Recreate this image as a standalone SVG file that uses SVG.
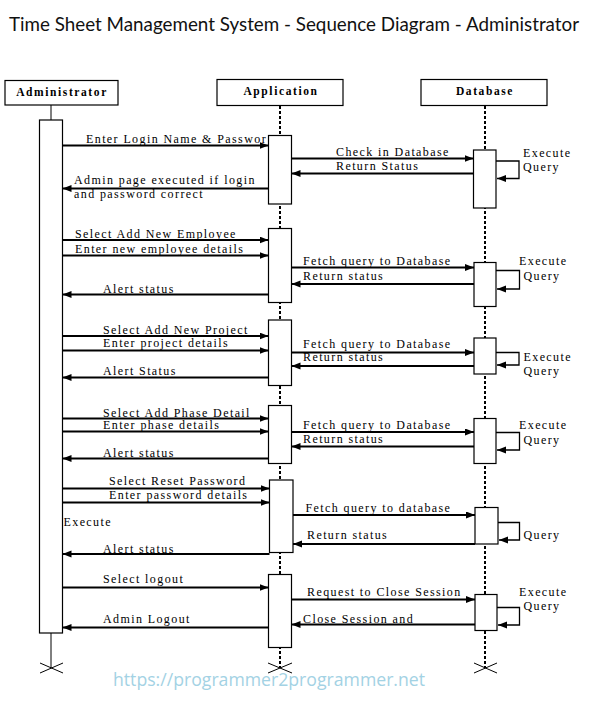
<svg xmlns="http://www.w3.org/2000/svg" width="594" height="708" viewBox="0 0 594 708">
<style>
.bg{fill:#fff}
.box{fill:#fff;stroke:#000;stroke-width:1.2}
.act{fill:#fff;stroke:#000;stroke-width:1.2}
.life{stroke:#000;stroke-width:1;fill:none}
.dash{stroke:#000;stroke-width:2;stroke-dasharray:3,2;fill:none}
.msg{stroke:#000;stroke-width:2;fill:none}
.loop{stroke:#000;stroke-width:1.3;fill:none}
.x{stroke:#000;stroke-width:1}
.lbl{font-family:"Liberation Serif","Times New Roman",serif;font-size:12px;letter-spacing:1.4px;fill:#000}
.hdr{font-family:"Liberation Serif","Times New Roman",serif;font-size:11.5px;font-weight:bold;letter-spacing:1.6px;fill:#000;text-anchor:middle}
.title{font-family:Lato,"Open Sans",sans-serif;font-size:19px;fill:#111}
.wm{font-family:"Open Sans","Noto Sans",sans-serif;font-size:18px;fill:#a3d2e4}
</style>
<defs>
<marker id="ah" markerUnits="userSpaceOnUse" markerWidth="10" markerHeight="8" refX="9" refY="3.5" orient="auto">
<path d="M0,0 L9,3.5 L0,7 z" fill="#000"/>
</marker>
</defs>
<rect class="bg" x="0" y="0" width="594" height="708"/>
<text class="title" x="9" y="31" textLength="570" lengthAdjust="spacingAndGlyphs">Time Sheet Management System - Sequence Diagram - Administrator</text>

<g id="lifelines">
<line class="life" x1="51" y1="105" x2="51" y2="120"/>
<line class="life" x1="51" y1="633" x2="51" y2="668"/>
<line class="dash" x1="280" y1="106" x2="280" y2="668"/>
<line class="dash" x1="485" y1="106" x2="485" y2="668"/>
<line class="x" x1="40" y1="663" x2="63" y2="673"/><line class="x" x1="40" y1="673" x2="63" y2="663"/>
<line class="x" x1="268" y1="663" x2="292" y2="673"/><line class="x" x1="268" y1="673" x2="292" y2="663"/>
<line class="x" x1="474" y1="663" x2="497" y2="673"/><line class="x" x1="474" y1="673" x2="497" y2="663"/>
</g>

<g id="administrator">
<rect class="box" x="5" y="80.5" width="113" height="24.5"/>
<text class="hdr" x="62" y="96">Administrator</text>
<rect class="act" x="39.5" y="120" width="23" height="513"/>
</g>

<g id="application">
<rect class="box" x="217" y="79.5" width="126" height="26"/>
<text class="hdr" x="281" y="95">Application</text>
<rect class="act" x="268.5" y="135.5" width="23" height="68.5"/>
<rect class="act" x="268.5" y="228.5" width="23" height="74"/>
<rect class="act" x="268.5" y="320" width="23" height="65.5"/>
<rect class="act" x="268.5" y="405.5" width="23" height="58"/>
<rect class="act" x="269.5" y="480" width="23.5" height="72.5"/>
<rect class="act" x="268.5" y="574.5" width="23" height="73"/>
</g>

<g id="database">
<rect class="box" x="421" y="79.5" width="126" height="26"/>
<text class="hdr" x="485" y="95">Database</text>
<rect class="act" x="473.5" y="150" width="22.5" height="58"/>
<rect class="act" x="474" y="262.5" width="22" height="44"/>
<rect class="act" x="474" y="338" width="22" height="36"/>
<rect class="act" x="474" y="418.5" width="22" height="45"/>
<rect class="act" x="475" y="507.5" width="23" height="36.5"/>
<rect class="act" x="475" y="594.5" width="22" height="36"/>
</g>

<g id="connectors">
<!-- section 1: login -->
<line class="msg" x1="63" y1="145.5" x2="268.5" y2="145.5" marker-end="url(#ah)"/>
<text class="lbl" x="86" y="143">Enter Login Name &amp; Passwor</text>
<line class="msg" x1="291.5" y1="158.5" x2="473.5" y2="158.5" marker-end="url(#ah)"/>
<text class="lbl" x="336" y="155.5">Check in Database</text>
<line class="msg" x1="473.5" y1="173.5" x2="291.5" y2="173.5" marker-end="url(#ah)"/>
<text class="lbl" x="336" y="170">Return Status</text>
<line class="msg" x1="268.5" y1="188.5" x2="62.5" y2="188.5" marker-end="url(#ah)"/>
<text class="lbl" x="74" y="183.5">Admin page executed if login</text>
<text class="lbl" x="74" y="198">and password correct</text>
<polyline class="loop" points="496,161 519,161 519,178.5 497,178.5" marker-end="url(#ah)"/>
<text class="lbl" x="523" y="156.5">Execute</text>
<text class="lbl" x="523" y="170.5">Query</text>

<!-- section 2: employee -->
<line class="msg" x1="63" y1="240" x2="268.5" y2="240" marker-end="url(#ah)"/>
<text class="lbl" x="75" y="237.5">Select Add New Employee</text>
<line class="msg" x1="63" y1="255.5" x2="268.5" y2="255.5" marker-end="url(#ah)"/>
<text class="lbl" x="75" y="252.5">Enter new employee details</text>
<line class="msg" x1="291.5" y1="267.5" x2="474" y2="267.5" marker-end="url(#ah)"/>
<text class="lbl" x="303" y="265">Fetch query to Database</text>
<line class="msg" x1="474" y1="284" x2="291.5" y2="284" marker-end="url(#ah)"/>
<text class="lbl" x="303" y="279.5">Return status</text>
<line class="msg" x1="268.5" y1="294.5" x2="62.5" y2="294.5" marker-end="url(#ah)"/>
<text class="lbl" x="103" y="292.5">Alert status</text>
<polyline class="loop" points="496,270.5 519.5,270.5 519.5,289 497,289" marker-end="url(#ah)"/>
<text class="lbl" x="519" y="265">Execute</text>
<text class="lbl" x="523.5" y="280">Query</text>

<!-- section 3: project -->
<line class="msg" x1="63" y1="336" x2="268.5" y2="336" marker-end="url(#ah)"/>
<text class="lbl" x="103" y="333.5">Select Add New Project</text>
<line class="msg" x1="63" y1="350.5" x2="268.5" y2="350.5" marker-end="url(#ah)"/>
<text class="lbl" x="103" y="347">Enter project details</text>
<line class="msg" x1="291.5" y1="352.5" x2="474" y2="352.5" marker-end="url(#ah)"/>
<text class="lbl" x="303" y="347.5">Fetch query to Database</text>
<line class="msg" x1="474" y1="366" x2="291.5" y2="366" marker-end="url(#ah)"/>
<text class="lbl" x="303" y="360.5">Return status</text>
<line class="msg" x1="268.5" y1="377.5" x2="62.5" y2="377.5" marker-end="url(#ah)"/>
<text class="lbl" x="103" y="374.5">Alert Status</text>
<polyline class="loop" points="496,352.5 519,352.5 519,365 497,365" marker-end="url(#ah)"/>
<text class="lbl" x="523.5" y="360.5">Execute</text>
<text class="lbl" x="523.5" y="375">Query</text>

<!-- section 4: phase -->
<line class="msg" x1="63" y1="418.5" x2="268.5" y2="418.5" marker-end="url(#ah)"/>
<text class="lbl" x="103" y="416.5">Select Add Phase Detail</text>
<line class="msg" x1="63" y1="431.5" x2="268.5" y2="431.5" marker-end="url(#ah)"/>
<text class="lbl" x="103" y="429">Enter phase details</text>
<line class="msg" x1="291.5" y1="432" x2="474" y2="432" marker-end="url(#ah)"/>
<text class="lbl" x="303" y="429">Fetch query to Database</text>
<line class="msg" x1="474" y1="446.5" x2="291.5" y2="446.5" marker-end="url(#ah)"/>
<text class="lbl" x="303" y="443">Return status</text>
<line class="msg" x1="268.5" y1="458.5" x2="62.5" y2="458.5" marker-end="url(#ah)"/>
<text class="lbl" x="103" y="456.5">Alert status</text>
<polyline class="loop" points="496,432.5 519.5,432.5 519.5,450 497,450" marker-end="url(#ah)"/>
<text class="lbl" x="519" y="429">Execute</text>
<text class="lbl" x="523.5" y="444">Query</text>

<!-- section 5: reset password -->
<line class="msg" x1="63" y1="488.5" x2="269.5" y2="488.5" marker-end="url(#ah)"/>
<text class="lbl" x="109" y="484.5">Select Reset Password</text>
<line class="msg" x1="63" y1="502.5" x2="269.5" y2="502.5" marker-end="url(#ah)"/>
<text class="lbl" x="109" y="498.5">Enter password details</text>
<line class="msg" x1="293" y1="515" x2="475" y2="515" marker-end="url(#ah)"/>
<text class="lbl" x="305.5" y="511.5">Fetch query to database</text>
<text class="lbl" x="63.5" y="526">Execute</text>
<line class="msg" x1="475" y1="544" x2="293" y2="544" marker-end="url(#ah)"/>
<text class="lbl" x="307" y="539">Return status</text>
<line class="msg" x1="269.5" y1="554" x2="62.5" y2="554" marker-end="url(#ah)"/>
<text class="lbl" x="103" y="552.5">Alert status</text>
<polyline class="loop" points="498,522.5 519.5,522.5 519.5,540 499,540" marker-end="url(#ah)"/>
<text class="lbl" x="523.5" y="539">Query</text>

<!-- section 6: logout -->
<line class="msg" x1="63" y1="587.5" x2="268.5" y2="587.5" marker-end="url(#ah)"/>
<text class="lbl" x="103" y="582.5">Select logout</text>
<line class="msg" x1="291.5" y1="599.5" x2="475" y2="599.5" marker-end="url(#ah)"/>
<text class="lbl" x="307" y="595.5">Request to Close Session</text>
<line class="msg" x1="475" y1="624.5" x2="291.5" y2="624.5" marker-end="url(#ah)"/>
<text class="lbl" x="303" y="622.5">Close Session and</text>
<line class="msg" x1="268.5" y1="627.5" x2="62.5" y2="627.5" marker-end="url(#ah)"/>
<text class="lbl" x="103" y="622.5">Admin Logout</text>
<polyline class="loop" points="497,607.5 519.5,607.5 519.5,625 498,625" marker-end="url(#ah)"/>
<text class="lbl" x="519" y="595.5">Execute</text>
<text class="lbl" x="523.5" y="610">Query</text>
</g>

<text class="wm" x="113" y="686" textLength="312" lengthAdjust="spacingAndGlyphs">https://programmer2programmer.net</text>
</svg>
